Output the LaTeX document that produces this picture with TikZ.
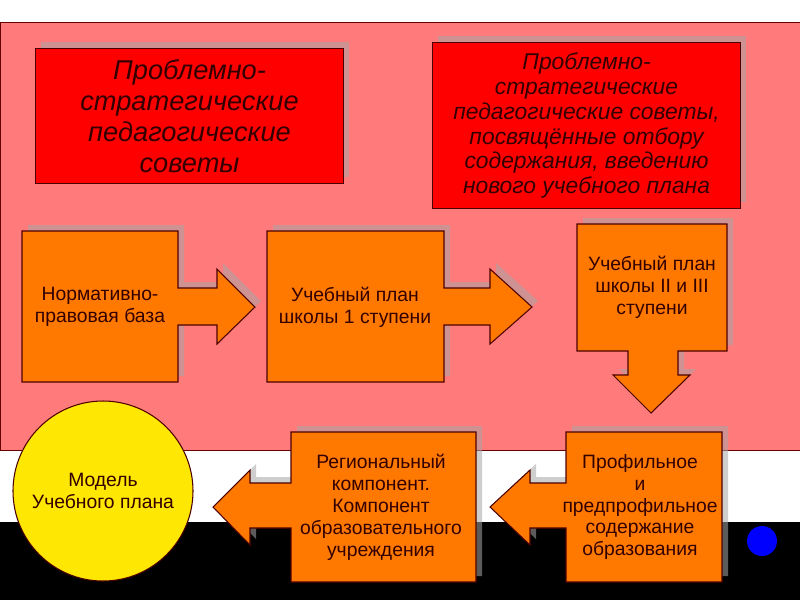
\documentclass[tikz,border=0pt]{standalone}
\usepackage{fontspec}
\setmainfont{Liberation Sans}
\begin{document}
\begin{tikzpicture}[x=0.02cm,y=-0.02cm,
  shp/.style={fill=orange!95!red, draw=black!70!red, line width=0.6pt},
  shd/.style={fill=black!35, opacity=0.55},
  redb/.style={fill=red, draw=black!70!red, line width=0.6pt},
  txt/.style={text=black!80!red, align=center, font=\fontsize{11}{12.5}\selectfont}]
\useasboundingbox (0,0) rectangle (800,600);
\fill[white] (0,0) rectangle (800,600);
\draw[fill=red!55!white!90!pink, draw=black!60!red] (0,22) rectangle (800,450);
\fill[black] (0,522) rectangle (800,600);
% red boxes
\fill[shd] (41,42) rectangle (349,177);
\node[redb, minimum width=308*0.02cm, minimum height=135*0.02cm, anchor=north west, inner sep=0] (r1) at (35,48) {};
\node[txt, font=\fontsize{15.5}{17.5}\itshape] at (r1) {Проблемно-\\стратегические\\педагогические\\советы};
\fill[shd] (438,36) rectangle (746,202);
\node[redb, minimum width=308*0.02cm, minimum height=166*0.02cm, anchor=north west, inner sep=0] (r2) at (432,42) {};
\node[txt, font=\fontsize{13}{14.2}\itshape] at (r2) {Проблемно-\\стратегические\\педагогические советы,\\посвящённые отбору\\содержания, введению\\нового учебного плана};
% shape 1
\fill[shd] (28,225) -- (184,225) -- (184,282) -- (223,282) -- (223,263) -- (261,301) -- (223,338) -- (223,319) -- (184,319) -- (184,376) -- (28,376) -- cycle;
\draw[shp] (22,231) -- (178,231) -- (178,288) -- (217,288) -- (217,269) -- (255,307) -- (217,344) -- (217,325) -- (178,325) -- (178,382) -- (22,382) -- cycle;
\node[txt] (n1) at (100,307) {Нормативно-\\правовая база};
% shape 2
\fill[shd] (273,225) -- (450,225) -- (450,282) -- (496,282) -- (496,263) -- (538,301) -- (496,338) -- (496,319) -- (450,319) -- (450,376) -- (273,376) -- cycle;
\draw[shp] (267,231) -- (444,231) -- (444,288) -- (490,288) -- (490,269) -- (532,307) -- (490,344) -- (490,325) -- (444,325) -- (444,382) -- (267,382) -- cycle;
\node[txt] (n2) at (355,307) {Учебный план\\школы 1 ступени};
% shape 3 (down)
\fill[shd] (583,218) -- (733,218) -- (733,345) -- (684,345) -- (684,369) -- (696,369) -- (657,407) -- (619,369) -- (634,369) -- (634,345) -- (583,345) -- cycle;
\draw[shp] (577,224) -- (727,224) -- (727,351) -- (678,351) -- (678,375) -- (690,375) -- (651,413) -- (613,375) -- (628,375) -- (628,351) -- (577,351) -- cycle;
\node[txt] (n3) at (652,287) {Учебный план\\школы II и III\\ступени};
% shape 4 (left)
\fill[shd] (572,426) -- (728,426) -- (728,576) -- (572,576) -- (572,522) -- (536,522) -- (536,539) -- (496,501) -- (536,464) -- (536,477) -- (572,477) -- cycle;
\draw[shp] (566,432) -- (722,432) -- (722,582) -- (566,582) -- (566,528) -- (530,528) -- (530,545) -- (490,507) -- (530,470) -- (530,483) -- (566,483) -- cycle;
\node[txt] (n4) at (640,507) {Профильное\\и\\предпрофильное\\содержание\\образования};
% shape 5 (left)
\fill[shd] (297,426) -- (482,426) -- (482,576) -- (297,576) -- (297,522) -- (256,522) -- (256,539) -- (219,501) -- (256,464) -- (256,477) -- (297,477) -- cycle;
\draw[shp] (291,432) -- (476,432) -- (476,582) -- (291,582) -- (291,528) -- (250,528) -- (250,545) -- (213,507) -- (250,470) -- (250,483) -- (291,483) -- cycle;
\node[txt] (n5) at (381,507) {Региональный\\компонент.\\Компонент\\образовательного\\учреждения};
% circle
\draw[fill=yellow!90!orange, draw=black!70!red, line width=0.6pt] (103,491) circle [radius=90];
\node[txt] (m) at (103,491) {Модель\\Учебного плана};
\fill[blue] (762,541) circle [radius=15];
\end{tikzpicture}
\end{document}
